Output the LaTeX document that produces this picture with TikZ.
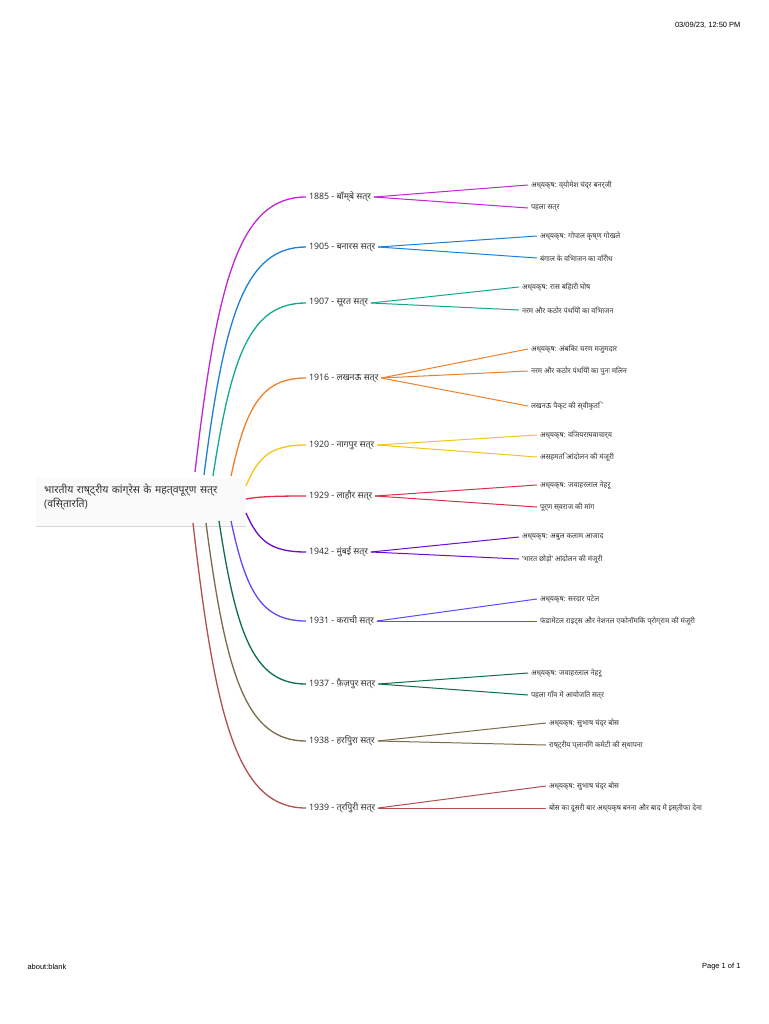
\documentclass[tikz,border=0pt]{standalone}
\usepackage{fontspec}
\setmainfont{Noto Sans}
\newfontfamily\latin{Liberation Sans}
\usetikzlibrary{calc}
\begin{document}
\begin{tikzpicture}[x=1pt,y=-1pt,
  br/.style={anchor=west,inner sep=1pt,outer sep=2pt,font=\fontsize{8.8}{10}\selectfont,text=black!80},
  ch/.style={anchor=west,inner sep=1pt,outer sep=2pt,font=\fontsize{7.2}{8}\selectfont,text=black!80},
  ln/.style={line width=1.3pt}]
\useasboundingbox (0,0) rectangle (768,1024);
\fill[white] (0,0) rectangle (768,1024);
\node[anchor=east,font=\latin\fontsize{7.5}{9}\selectfont] (hdr) at (744,25) {03/09/23, 12:50 PM};
\node[anchor=west,font=\latin\fontsize{7.5}{9}\selectfont] (ab) at (24,967) {about:blank};
\node[anchor=east,font=\latin\fontsize{7.5}{9}\selectfont] (pg) at (744,967) {Page 1 of 1};
\fill[black!2] (36,478) rectangle (246,526);
\draw[black!15,line width=0.8pt] (36,526) -- (246,526);
\node[anchor=north west,align=left,text width=200pt,font=\fontsize{10.5}{14}\selectfont,text=black!80,inner sep=2pt] (root) at (42,482) {भारतीय राष्ट्रीय कांग्रेस के महत्वपूर्ण सत्र (विस्तारित)};
\def\branch#1#2#3#4#5#6{%
  \node[br] (#1) at (306,#3) {#2};
  \coordinate (#1s) at (#5,#6);
  \draw[ln,#4] (#1s) .. controls ($(#1s)+(0.2*306-0.2*#5,0.7*#3-0.7*#6)$) and (0.4*306+0.6*#5,#3) .. (#1.west);
}
\def\child#1#2#3#4#5#6{%
  \node[ch] (#1) at (#3,#4) {#2};
  \draw[line width=1pt,#6] (#5.east) .. controls ($(#5.east)!0.5!(#1.west)$ |- #5.east) and ($(#5.east)!0.5!(#1.west)$ |- #1.west) .. (#1.west);
}
\definecolor{c1}{HTML}{C026D3}\definecolor{c2}{HTML}{1E7FD8}\definecolor{c3}{HTML}{14A88F}
\definecolor{c4}{HTML}{F07F2A}\definecolor{c5}{HTML}{F5C518}\definecolor{c6}{HTML}{D9304A}
\definecolor{c7}{HTML}{6A0DCC}\definecolor{c8}{HTML}{5B4CF5}\definecolor{c9}{HTML}{0E6B4F}
\definecolor{c10}{HTML}{7A6B4A}\definecolor{c11}{HTML}{B05050}
\branch{b1}{1885 - बॉम्बे सत्र}{197}{c1}{195}{472}
\branch{b2}{1905 - बनारस सत्र}{247}{c2}{204}{475}
\branch{b3}{1907 - सूरत सत्र}{303}{c3}{213}{476}
\branch{b4}{1916 - लखनऊ सत्र}{378}{c4}{231}{476}
\branch{b5}{1920 - नागपुर सत्र}{445}{c5}{246}{486}
\branch{b6}{1929 - लाहौर सत्र}{496}{c6}{246}{499}
\branch{b7}{1942 - मुंबई सत्र}{552}{c7}{246}{513}
\branch{b8}{1931 - कराची सत्र}{621}{c8}{231}{521}
\branch{b9}{1937 - फ़ैज़पुर सत्र}{684}{c9}{219}{521}
\branch{b10}{1938 - हरिपुरा सत्र}{741}{c10}{206}{523}
\branch{b11}{1939 - त्रिपुरी सत्र}{808}{c11}{193}{523}
\child{k11}{अध्यक्ष: व्योमेश चंद्र बनर्जी}{528}{185}{b1}{c1}
\child{k12}{पहला सत्र}{528}{208}{b1}{c1}
\child{k21}{अध्यक्ष: गोपाल कृष्ण गोखले}{537}{236}{b2}{c2}
\child{k22}{बंगाल के विभाजन का विरोध}{537}{258}{b2}{c2}
\child{k31}{अध्यक्ष: रास बिहारी घोष}{519}{287}{b3}{c3}
\child{k32}{नरम और कठोर पंथियों का विभाजन}{519}{310}{b3}{c3}
\child{k41}{अध्यक्ष: अंबिका चरण मजुमदार}{528}{349}{b4}{c4}
\child{k42}{नरम और कठोर पंथियों का पुनः मिलन}{528}{371}{b4}{c4}
\child{k43}{लखनऊ पैक्ट की स्वीकृति}{528}{406}{b4}{c4}
\child{k51}{अध्यक्ष: विजयराघवाचार्य}{537}{435}{b5}{c5}
\child{k52}{असहमति आंदोलन की मंजूरी}{537}{457}{b5}{c5}
\child{k61}{अध्यक्ष: जवाहरलाल नेहरू}{537}{485}{b6}{c6}
\child{k62}{पूर्ण स्वराज की मांग}{537}{507}{b6}{c6}
\child{k71}{अध्यक्ष: अबुल कलाम आजाद}{519}{537}{b7}{c7}
\child{k72}{'भारत छोड़ो' आंदोलन की मंजूरी}{519}{559}{b7}{c7}
\child{k81}{अध्यक्ष: सरदार पटेल}{537}{599}{b8}{c8}
\child{k82}{फंडामेंटल राइट्स और नेशनल एकोनॉमिक प्रोग्राम की मंजूरी}{537}{621}{b8}{c8}
\child{k91}{अध्यक्ष: जवाहरलाल नेहरू}{528}{673}{b9}{c9}
\child{k92}{पहला गाँव में आयोजित सत्र}{528}{695}{b9}{c9}
\child{k101}{अध्यक्ष: सुभाष चंद्र बोस}{546}{723}{b10}{c10}
\child{k102}{राष्ट्रीय प्लानिंग कमेटी की स्थापना}{546}{745}{b10}{c10}
\child{k111}{अध्यक्ष: सुभाष चंद्र बोस}{546}{786}{b11}{c11}
\child{k112}{बोस का दूसरी बार अध्यक्ष बनना और बाद में इस्तीफा देना}{546}{808}{b11}{c11}
\end{tikzpicture}
\end{document}
